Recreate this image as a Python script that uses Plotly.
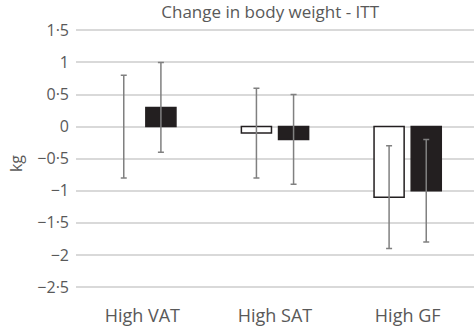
import plotly.graph_objects as go

categories = ["High VAT", "High SAT", "High GF"]
series_a = [0.0, -0.1, -1.1]
err_a = [0.8, 0.7, 0.8]
series_b = [0.3, -0.2, -1.0]
err_b = [0.7, 0.7, 0.8]
tick_vals = [1.5, 1, 0.5, 0, -0.5, -1, -1.5, -2, -2.5]
tick_text = ["1·5", "1", "0·5", "0", "−0·5", "−1", "−1·5", "−2", "−2·5"]

font = "Open Sans, Liberation Sans, sans-serif"
err_style = dict(type="data", visible=True, color="#808080", thickness=1.5, width=3)

fig = go.Figure()
fig.add_bar(x=categories, y=series_a,
            marker=dict(color="white", line=dict(color="#231f20", width=[0, 1.5, 1.5])),
            error_y=dict(array=err_a, **err_style), showlegend=False)
fig.add_bar(x=categories, y=series_b, marker=dict(color="#231f20", line=dict(color="#231f20", width=1.5)),
            error_y=dict(array=err_b, **err_style), showlegend=False)

fig.update_layout(
    width=474, height=327,
    margin=dict(l=76, r=0, t=24, b=21),
    paper_bgcolor="white", plot_bgcolor="white",
    barmode="group", bargap=0.44, bargroupgap=0.19,
    title=dict(text="Change in body weight - ITT", x=0.57, xanchor="center", y=0.962, yanchor="middle",
               font=dict(family=font, size=17, color="#595959")),
    font=dict(family=font, color="#595959"),
)
fig.update_yaxes(range=[-2.75, 1.6], tickvals=tick_vals, ticktext=tick_text, showgrid=True,
                 gridcolor="#d9d9d9", gridwidth=1.5, zeroline=False, ticks="", ticklabelstandoff=6,
                 tickfont=dict(size=16, color="#595959"),
                 title=dict(text="kg", font=dict(size=16, color="#595959"), standoff=10))
fig.update_xaxes(showgrid=False, zeroline=False, showline=False, ticks="",
                 tickfont=dict(size=18, color="#595959"))

fig.write_html("out.html")
